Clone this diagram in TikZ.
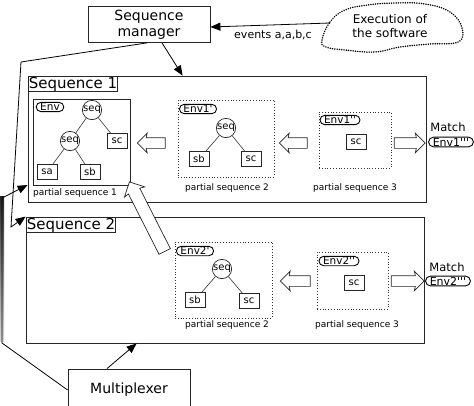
\documentclass[tikz,border=0pt]{standalone}
\usepackage{fontspec}
\setmainfont{DejaVu Sans}
\usetikzlibrary{shapes.misc,shapes.arrows,arrows.meta}
\newcommand{\myq}{\textquotesingle}
\begin{document}
\begin{tikzpicture}[x=1pt,y=-1pt,
  box/.style={draw=black!85, line width=0.8pt},
  dotbox/.style={draw=black!80, line width=0.8pt, dotted},
  bigtext/.style={font=\fontsize{14}{16}\selectfont},
  envoval/.style={rounded rectangle, draw=black, line width=0.9pt, inner xsep=2pt, inner ysep=0.8pt, font=\fontsize{10.5}{12}\selectfont},
  seqc/.style={circle, draw=black!85, line width=0.7pt, minimum size=19pt, inner sep=0pt, font=\fontsize{10}{12}\selectfont},
  leaf/.style={draw=black!85, line width=0.7pt, minimum width=20pt, minimum height=15pt, inner sep=0pt, font=\fontsize{10}{12}\selectfont},
  tree/.style={draw=black!80, line width=0.6pt},
  plabel/.style={font=\fontsize{9}{11}\selectfont},
  hollow/.style={single arrow, draw=black!85, line width=0.7pt, inner sep=5pt, minimum width=19pt, single arrow head extend=4.5pt, single arrow head indent=1pt},
  conn/.style={draw=black, line width=0.8pt},
  tip/.style={-{Triangle[length=10pt,width=8pt]}}
]
\useasboundingbox (0,0) rectangle (474,405);
\clip (0,0) rectangle (474,405);

% main boxes
\node[box, bigtext, minimum width=122pt, minimum height=35pt, align=center] (sm) at (149,24.5) {Sequence\\manager};
\node[box, bigtext, minimum width=122pt, minimum height=42pt] (mux) at (129,390) {Multiplexer};

\node[box, minimum width=398pt, minimum height=126pt, inner sep=0pt] (s1) at (227,139) {};
\node[draw=black!85, line width=0.8pt, anchor=north west, inner sep=0.5pt, font=\fontsize{15}{17}\selectfont] (s1l) at (28,76) {Sequence 1};
\node[box, minimum width=398pt, minimum height=126pt, inner sep=0pt] (s2) at (225,280) {};
\node[draw=black!85, line width=0.8pt, anchor=north west, inner sep=0.5pt, font=\fontsize{15}{17}\selectfont] (s2l) at (26,217) {Sequence 2};

% cloud
\draw[line width=1.6pt, dash pattern=on 0.1pt off 2.2pt, line cap=round]
  plot[smooth cycle, tension=0.7] coordinates {(322,40) (330,22) (345,10) (368,5) (395,3) (425,4) (450,12) (462,28) (458,42) (430,44) (400,47) (375,52) (345,50) (326,47)};
\node[font=\fontsize{12}{14}\selectfont, align=center] (exec) at (390,26) {Execution of\\the software};
\coordinate (cloudw) at (330,23);
\draw[conn, tip] (cloudw) -- ([yshift=-2.5pt]sm.east);
\node[font=\fontsize{11}{13}\selectfont] (ev) at (273,35) {events a,a,b,c};

% partial sequence 1 (row 1)
\node[box, minimum width=97pt, minimum height=86pt, inner sep=0pt] (p1) at (81.5,142) {};
\node[envoval] (e1) at (50,107) {Env};
\node[seqc] (r1) at (92,110) {seq};
\node[seqc] (r2) at (70,141) {seq};
\node[leaf] (c1) at (117,141) {sc};
\node[leaf] (a1) at (47,172) {sa};
\node[leaf] (b1) at (90,172) {sb};
\draw[tree] (r1) -- (r2); \draw[tree] (r1) -- (c1);
\draw[tree] (r2) -- (a1); \draw[tree] (r2) -- (b1);
\node[plabel] (p1l) at (75,193) {partial sequence 1};

% partial sequence 2 (row 1)
\node[dotbox, minimum width=96pt, minimum height=77pt, inner sep=0pt] (p2) at (226,138.5) {};
\node[envoval] (e2) at (198,109) {Env1\myq};
\node[seqc] (r3) at (226,128) {seq};
\node[leaf] (b2) at (199,159) {sb};
\node[leaf] (c2) at (251,159) {sc};
\draw[tree] (r3) -- (b2); \draw[tree] (r3) -- (c2);
\node[plabel] (p2l) at (227,188) {partial sequence 2};

% partial sequence 3 (row 1)
\node[dotbox, minimum width=72pt, minimum height=56pt, inner sep=0pt] (p3) at (355,140) {};
\node[envoval] (e3) at (340,120) {Env1\myq\myq};
\node[leaf] (c3) at (356,142) {sc};
\node[plabel] (p3l) at (355,188) {partial sequence 3};

\node[hollow, minimum height=28pt, rotate=180] (h1) at (154,143) {};
\node[hollow, minimum height=28pt, rotate=180] (h2) at (296,143) {};
\node[hollow, minimum height=31pt] (h3) at (407,143) {};
\node[font=\fontsize{11.5}{13}\selectfont] (m1) at (448,127) {Match};
\node[envoval, font=\fontsize{11}{12}\selectfont] (e4) at (451,142) {Env1\myq\myq\myq};

% partial sequence 2 (row 2)
\node[dotbox, minimum width=97pt, minimum height=76pt, inner sep=0pt] (p4) at (223.5,280) {};
\node[envoval] (e5) at (195,251) {Env2\myq};
\node[seqc] (r4) at (222,269) {seq};
\node[leaf] (b4) at (195,300) {sb};
\node[leaf] (c4) at (249,301) {sc};
\draw[tree] (r4) -- (b4); \draw[tree] (r4) -- (c4);
\node[plabel] (p4l) at (227,325) {partial sequence 2};

% partial sequence 3 (row 2)
\node[dotbox, minimum width=71pt, minimum height=57pt, inner sep=0pt] (p5) at (352.5,280.5) {};
\node[envoval] (e6) at (339,261) {Env2\myq\myq};
\node[leaf] (c5) at (354,283) {sc};
\node[plabel] (p5l) at (357,325) {partial sequence 3};

\node[hollow, minimum height=30pt, rotate=180] (h4) at (298,281) {};
\node[hollow, minimum height=33pt] (h5) at (405,281) {};
\node[font=\fontsize{11.5}{13}\selectfont] (m2) at (447,267) {Match};
\node[envoval, font=\fontsize{11}{12}\selectfont] (e7) at (448,281) {Env2\myq\myq\myq};

% long hollow arrow from row 2 to partial sequence 1
\node[hollow, minimum height=78pt, minimum width=22pt, inner sep=6pt, single arrow head extend=5pt, rotate=116.9, fill=white] (h6) at (148.5,219.5) {};

% connectors
\draw[conn, tip] ([xshift=13pt]sm.south) -- ([xshift=155pt]s1.north west);
\draw[conn, tip] ([xshift=-2pt]sm.south) -- (21,62) -- (11,227) -- (s2.north west);
\draw[conn, tip] ([xshift=-22pt]mux.north) -- ([xshift=111pt]s2.south west);
\shade[top color=black!85, bottom color=black!15] (0,196) rectangle (4,341);
\draw[conn, tip] (mux.west) -- (2,343) -- (2,198) -- ([yshift=-46pt]s1.west);
\end{tikzpicture}
\end{document}
